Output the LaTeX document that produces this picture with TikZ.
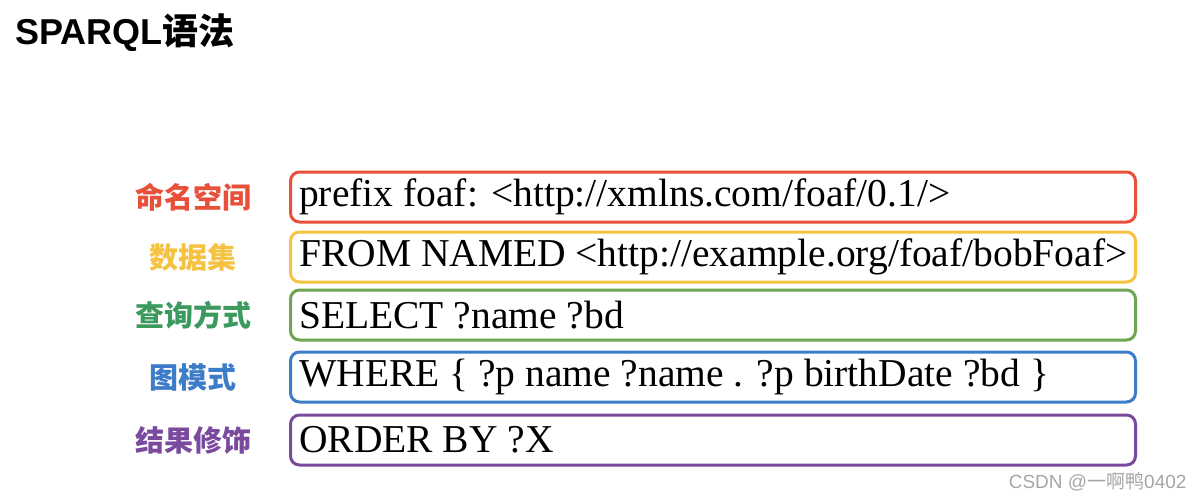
\documentclass[tikz,border=0pt]{standalone}
\usepackage{fontspec}
\setmainfont{Liberation Serif}
\newfontfamily\cjk{Noto Sans CJK SC}
\newfontfamily\lsans{Liberation Sans}
\definecolor{cr}{HTML}{E8503A}
\definecolor{cy}{HTML}{F5C242}
\definecolor{cg}{HTML}{6FA552}
\definecolor{cgl}{HTML}{3C9A5F}
\definecolor{cb}{HTML}{3D7CC9}
\definecolor{cp}{HTML}{7A4A9E}
\begin{document}
\begin{tikzpicture}[x=1pt,y=-1pt,
  rowbox/.style={draw=#1,line width=3pt,rounded corners=9pt,minimum width=845pt,minimum height=50pt,anchor=west,inner sep=0pt},
  rowtext/.style={anchor=west,inner sep=0pt,font=\fontsize{39.5}{42}\selectfont},
  rowlabel/.style={text=#1,font=\cjk\bfseries\fontsize{29}{32}\selectfont,anchor=center}]
\useasboundingbox[fill=white] (0,0) rectangle (1198,501);
\node[anchor=west,font=\lsans\bfseries\fontsize{36}{40}\selectfont,inner sep=0pt] (title) at (15,33) {SPARQL{\cjk\bfseries 语法}};
\foreach \i/\y/\c/\lc/\lab/\txt in {
 1/197/cr/cr/命名空间/{prefix foaf: <http://xmlns.com/foaf/0.1/>},
 2/257/cy/cy/数据集/{FROM NAMED <http://example.org/foaf/bobFoaf>},
 3/315/cg/cgl/查询方式/{SELECT ?name ?bd},
 4/377/cb/cb/图模式/{WHERE \{ ?p name ?name . ?p birthDate ?bd \}},
 5/440/cp/cp/结果修饰/{ORDER BY ?X}}{
  \node[rowbox=\c] (b\i) at (289,\y) {};
  \node[rowtext] (t\i) at (299,\y) {\txt};
  \node[rowlabel=\lc] (l\i) at (193,\y) {\lab};
}
\node[anchor=east,text=gray!70,font=\lsans\fontsize{19}{21}\selectfont] (wm) at (1190,482) {CSDN @{\cjk 一啊鸭}0402};
\end{tikzpicture}
\end{document}
